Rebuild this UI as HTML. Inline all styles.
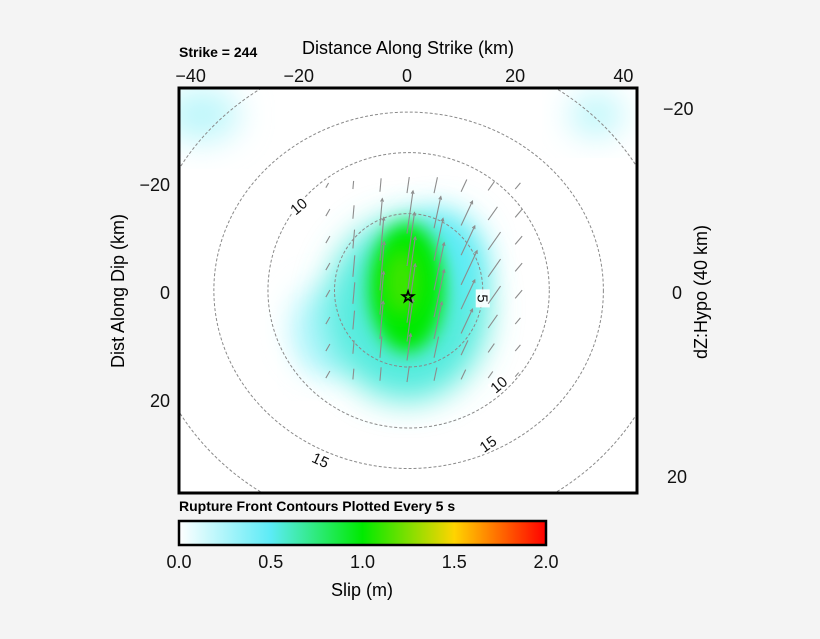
<!DOCTYPE html>
<html><head><meta charset="utf-8"><style>
html,body{margin:0;padding:0;background:#f4f4f4;}
svg{display:block;font-family:"Liberation Sans",sans-serif;}
</style></head><body>
<svg id="chart" width="820" height="639" viewBox="0 0 820 639">
<defs>
<linearGradient id="cmap" x1="0" x2="1" y1="0" y2="0">
<stop offset="0" stop-color="#ffffff"/>
<stop offset="0.25" stop-color="#5cebf6"/>
<stop offset="0.5" stop-color="#00ea00"/>
<stop offset="0.75" stop-color="#ffd400"/>
<stop offset="1" stop-color="#ff0000"/>
</linearGradient>
<filter id="blur" x="-50%" y="-50%" width="200%" height="200%"><feGaussianBlur stdDeviation="16"/></filter>
<filter id="blur2" x="-50%" y="-50%" width="200%" height="200%"><feGaussianBlur stdDeviation="9"/></filter>
<clipPath id="plotclip"><rect x="179" y="88" width="458" height="405"/></clipPath>
</defs>
<rect x="179" y="88" width="458" height="405" fill="#ffffff"/>
<g id="slip" clip-path="url(#plotclip)"></g>
<g id="contours" clip-path="url(#plotclip)"></g>
<g id="arrows" clip-path="url(#plotclip)"></g>
<text x="408" y="302" font-size="16" text-anchor="middle" fill="none" stroke="#000" stroke-width="1.2">☆</text>
<rect x="179" y="88" width="458" height="405" fill="none" stroke="#000" stroke-width="3"/>
<g id="axes" font-size="18" fill="#111"></g>
<text x="179" y="57" font-size="14" font-weight="bold">Strike = 244</text>
<text x="408" y="54" font-size="18" text-anchor="middle">Distance Along Strike (km)</text>
<text transform="translate(124,291) rotate(-90)" font-size="18" text-anchor="middle">Dist Along Dip (km)</text>
<text transform="translate(707,292) rotate(-90)" font-size="18" text-anchor="middle">dZ:Hypo (40 km)</text>
<text x="179" y="511" font-size="14" font-weight="bold">Rupture Front Contours Plotted Every 5 s</text>
<rect x="179" y="521" width="367" height="24" fill="url(#cmap)" stroke="#000" stroke-width="2.5"/>
<g id="cbticks" font-size="18" fill="#111"></g>
<text x="362" y="596" font-size="18" text-anchor="middle">Slip (m)</text>
</svg>
<script>
const xTicks=[-40,-20,0,20,40];
const yTicks=[-20,0,20];
const rightTicks=[-20,0,20];
const cbTicks=[0.0,0.5,1.0,1.5,2.0];
const contourTimes=[5,10,15,20];
const contourRx=[13.7,26,36,49];
const contourRy=[14.2,25.5,33,45];
const slipX=[0,0,-1,6,-15,35,-38,-14];
const slipY=[3,-1,-2,-6,6,-33,-33,10];
const slipRx=[15,7,3,8,6,5,7,5];
const slipRy=[17,12,6,9,7,4,5,5];
const slipVal=[0.55,1.0,1.12,0.5,0.25,0.2,0.2,0.25];
const vecCols=[-15,-10,-5,0,5,10,15,20];
const vecRows=[-20,-15,-10,-5,0,5,10,15];
const vecLen=[
[1,1.5,2.5,3,3,2.5,2,1.5],
[1.5,2.5,5,8,6,5,3,2],
[1.5,3.5,8,10,8,6,4,2],
[1.5,4,9,11,9,7,4,2],
[1.5,4,8,11,9,6,4,2],
[1.5,3.5,7,8,7,5,3,1.5],
[1.5,2.5,4,5,4,3,2,1.5],
[1.5,2,2.5,3,2.5,2,1.5,1]];
const vecAngle=[30,5,5,8,12,25,35,40];
const contourLabels=["10","5","10","15","15"];
const contourLabelX=[-20,14,17,15,-16];
const contourLabelY=[-16,1,17,28,31];
const contourLabelRot=[-40,90,-40,-35,25];

const NS="http://www.w3.org/2000/svg";
const X0=407,Y0=293,KX=5.41,KY=5.4,KR=9.2;
const sx=v=>X0+v*KX, sy=v=>Y0+v*KY, sr=v=>Y0+v*KR;
const cbx=v=>179+v/2*367;
function mk(t,a,p){const e=document.createElementNS(NS,t);for(const k in a)e.setAttribute(k,a[k]);(p||document.getElementById('chart')).appendChild(e);return e;}
function cmap(v){const s=[[0,[255,255,255]],[0.5,[92,235,246]],[1,[0,234,0]],[1.5,[255,212,0]],[2,[255,0,0]]];
for(let i=0;i<s.length-1;i++){if(v<=s[i+1][0]){const f=(v-s[i][0])/(s[i+1][0]-s[i][0]);const c=s[i][1].map((c0,j)=>Math.round(c0+(s[i+1][1][j]-c0)*f));return`rgb(${c})`;}}return'rgb(255,0,0)';}
const ax=document.getElementById('axes');
xTicks.forEach(t=>{const e=mk('text',{x:sx(t),y:82,'text-anchor':'middle'},ax);e.textContent=(t<0?'\u2212':'')+Math.abs(t);

});
yTicks.forEach(t=>{const e=mk('text',{x:170,y:sy(t)+6,'text-anchor':'end'},ax);e.textContent=(t<0?'\u2212':'')+Math.abs(t);

});
rightTicks.forEach(t=>{const e=mk('text',{x:t<0?663:t>0?667:672,y:sr(t)+6},ax);e.textContent=(t<0?'\u2212':'')+Math.abs(t);

});
const cb=document.getElementById('cbticks');
cbTicks.forEach(t=>{const e=mk('text',{x:cbx(t),y:568,'text-anchor':'middle'},cb);e.textContent=t.toFixed(1);

});
const sl=document.getElementById('slip');
const order=[5,6,4,7,0,3,1,2];
order.forEach(i=>{const e=mk('ellipse',{cx:sx(slipX[i]),cy:sy(slipY[i]),rx:slipRx[i]*KX,ry:slipRy[i]*KY,fill:cmap(slipVal[i]),filter:(i==1||i==2)?'url(#blur2)':'url(#blur)'},sl);

});
const co=document.getElementById('contours');
contourTimes.forEach((t,i)=>{const e=mk('ellipse',{cx:sx(0.3),cy:sy(-0.5),rx:contourRx[i]*KX,ry:contourRy[i]*KY,fill:'none',stroke:'#8a8a8a','stroke-width':1,'stroke-dasharray':'3,2'},co);

});
contourLabels.forEach((l,i)=>{const x=sx(contourLabelX[i]),y=sy(contourLabelY[i]);
mk('rect',{x:x-9,y:y-7,width:18,height:14,fill:'#fff',opacity:0.9,transform:`rotate(${contourLabelRot[i]} ${x} ${y})`},co);
const e=mk('text',{x:x,y:y+5,'font-size':15,'text-anchor':'middle',fill:'#111',transform:`rotate(${contourLabelRot[i]} ${x} ${y})`},co);e.textContent=l;

});
const ar=document.getElementById('arrows');
vecRows.forEach((r,ri)=>vecCols.forEach((c,ci)=>{const L=vecLen[ri][ci],a=vecAngle[ci]*Math.PI/180;
const x1=sx(c),y1=sy(r)+L*KY*0.5,x2=x1+Math.sin(a)*L*KX,y2=y1-Math.cos(a)*L*KY;
const e=mk('line',{x1:x1,y1:y1,x2:x2,y2:y2,stroke:'#8c8c8c','stroke-width':1.1},ar);


if(L>4){const h=mk('polyline',{points:`${x2-Math.cos(a)*1.5-Math.sin(a)*3},${y2-Math.sin(a)*1.5+Math.cos(a)*3} ${x2},${y2} ${x2+Math.cos(a)*1.5-Math.sin(a)*3},${y2+Math.sin(a)*1.5+Math.cos(a)*3}`,fill:'none',stroke:'#8c8c8c','stroke-width':1},ar);

}
}));
</script>
</body></html>
